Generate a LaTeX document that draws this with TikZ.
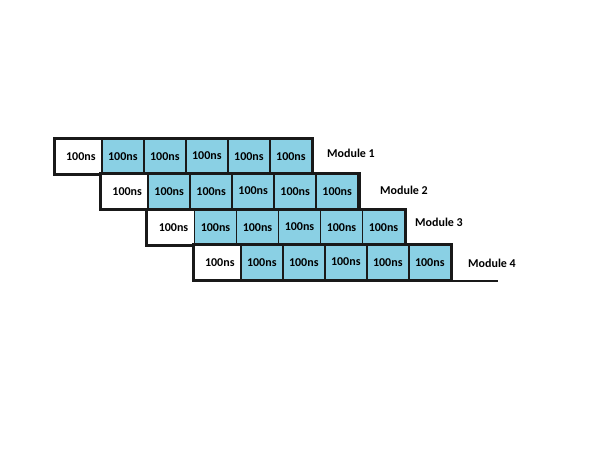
\documentclass[tikz,border=0pt]{standalone}
\usepackage{fontspec}
\setmainfont{Carlito}
\definecolor{cellblue}{RGB}{138,208,228}
\definecolor{edge}{RGB}{25,25,25}
\begin{document}
\begin{tikzpicture}[x=1pt,y=-1pt,
  cellbase/.style={draw=edge,line width=1.8pt,minimum height=34.5pt,inner sep=0pt,anchor=north west,font=\bfseries\fontsize{12}{14}\selectfont},
  cellw/.style={cellbase,fill=white,minimum width=47pt},
  cellb/.style={cellbase,fill=cellblue,minimum width=42pt},
  modlabel/.style={anchor=west,font=\bfseries\fontsize{12}{14}\selectfont,inner sep=0pt},
  rowframe/.style={draw=edge,line width=2.8pt},
  baseline/.style={draw=edge,line width=1.6pt}]
\useasboundingbox (0,0) rectangle (600,450);
\foreach \r in {0,1,2,3}{
  \pgfmathsetmacro{\xo}{54+46.3*\r}
  \pgfmathsetmacro{\yo}{138+35.5*\r}
  \node[cellw] (w\r) at (\xo,\yo) {\hspace*{5pt}100ns};
  \foreach \c in {1,...,5}{
    \pgfmathsetmacro{\xc}{\xo+47+42*(\c-1)}
    \ifnum\c=3
      \node[cellb] (b\r\c) at (\xc,\yo) {\raisebox{2pt}{100ns}};
    \else
      \node[cellb] (b\r\c) at (\xc,\yo) {100ns};
    \fi
  }
  \draw[rowframe] (w\r.north west) rectangle (b\r5.south east);
}
\node[modlabel] (m1) at (327,153) {Module 1};
\node[modlabel] (m2) at (380,190) {Module 2};
\node[modlabel] (m3) at (415,222) {Module 3};
\node[modlabel] (m4) at (468,263) {Module 4};
\coordinate (lineend) at (498,281);
\draw[baseline] (w3.south east |- lineend) -- (lineend);
\end{tikzpicture}
\end{document}
